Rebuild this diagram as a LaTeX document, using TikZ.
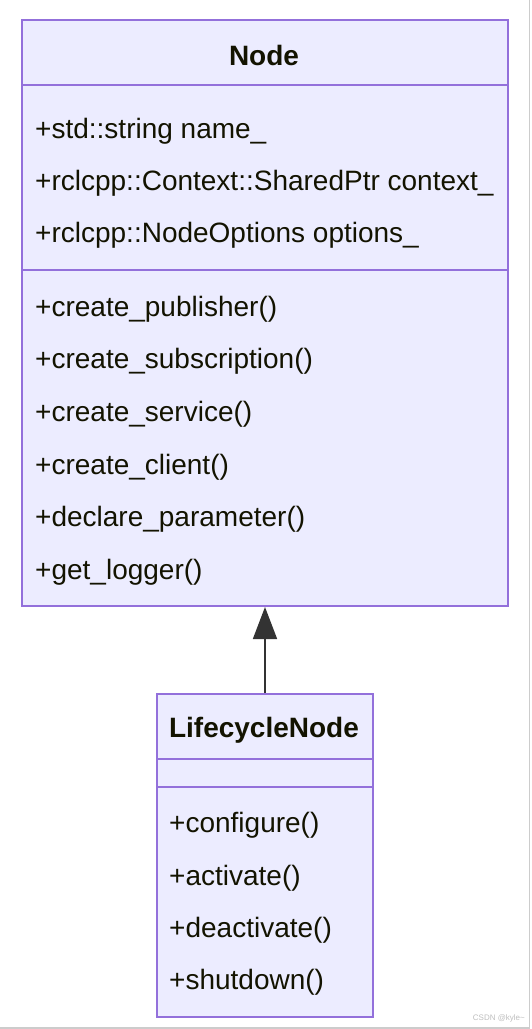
\documentclass[tikz,border=0pt]{standalone}
\usepackage{fontspec}
\setmainfont{Liberation Sans}
\usepackage{xcolor}
\usetikzlibrary{arrows.meta, positioning}

\definecolor{classfill}{HTML}{ECECFF}
\definecolor{classline}{HTML}{9370DB}
\definecolor{classtext}{HTML}{131300}
\definecolor{arrowgray}{HTML}{333333}

\begin{document}
\begin{tikzpicture}[
        x=1pt, y=-1pt,
        classbox/.style={rectangle, draw=classline, line width=2pt, fill=classfill, anchor=north west, inner sep=0pt},
        divider/.style={draw=classline, line width=2pt},
        title/.style={font=\fontsize{28}{32}\selectfont\bfseries, text=classtext, inner sep=0pt},
        member/.style={font=\fontsize{28}{32}\selectfont, text=classtext, anchor=base west, inner sep=0pt},
        inherit/.style={draw=arrowgray, line width=1.6pt, -{Triangle[length=32pt, width=24pt, fill=arrowgray]}}
        ]

        % canvas and frame
        \useasboundingbox[fill=white] (0,0) rectangle (531,1029);
        \draw[black!20, line width=1.5pt] (529.5,0) -- (529.5,1028) -- (0,1028);

        % Node class
        \node (node) [classbox, minimum width=486, minimum height=586] at (21,19) {};
        \draw [divider] (node.west |- 0,85) -- (node.east |- 0,85);
        \draw [divider] (node.west |- 0,270) -- (node.east |- 0,270);
        \node (nodetitle) [title] at (264,55) {Node};

        \node (attr1) [member] at (35,138) {+std::string name\_};
        \node (attr2) [member] at (35,190) {+rclcpp::Context::SharedPtr context\_};
        \node (attr3) [member] at (35,242) {+rclcpp::NodeOptions options\_};

        \node (op1) [member] at (35,316) {+create\_publisher()};
        \node (op2) [member] at (35,368) {+create\_subscription()};
        \node (op3) [member] at (35,421) {+create\_service()};
        \node (op4) [member] at (35,474) {+create\_client()};
        \node (op5) [member] at (35,526) {+declare\_parameter()};
        \node (op6) [member] at (35,579) {+get\_logger()};

        % LifecycleNode class
        \node (lifecycle) [classbox, minimum width=216, minimum height=323] at (156,693) {};
        \draw [divider] (lifecycle.west |- 0,759) -- (lifecycle.east |- 0,759);
        \draw [divider] (lifecycle.west |- 0,787) -- (lifecycle.east |- 0,787);
        \node (lctitle) [title] at (264,730) {LifecycleNode};

        \node (lc1) [member] at (169,832) {+configure()};
        \node (lc2) [member] at (169,885) {+activate()};
        \node (lc3) [member] at (169,937) {+deactivate()};
        \node (lc4) [member] at (169,989) {+shutdown()};

        % inheritance
        \draw [inherit] (lifecycle.north) -- (node.south);

        % watermark
        \node (mark) [font=\fontsize{8}{9}\selectfont, text=black!25, anchor=south east, inner sep=0pt] at (525,1022) {CSDN @kyle\textasciitilde};

    \end{tikzpicture}
\end{document}
